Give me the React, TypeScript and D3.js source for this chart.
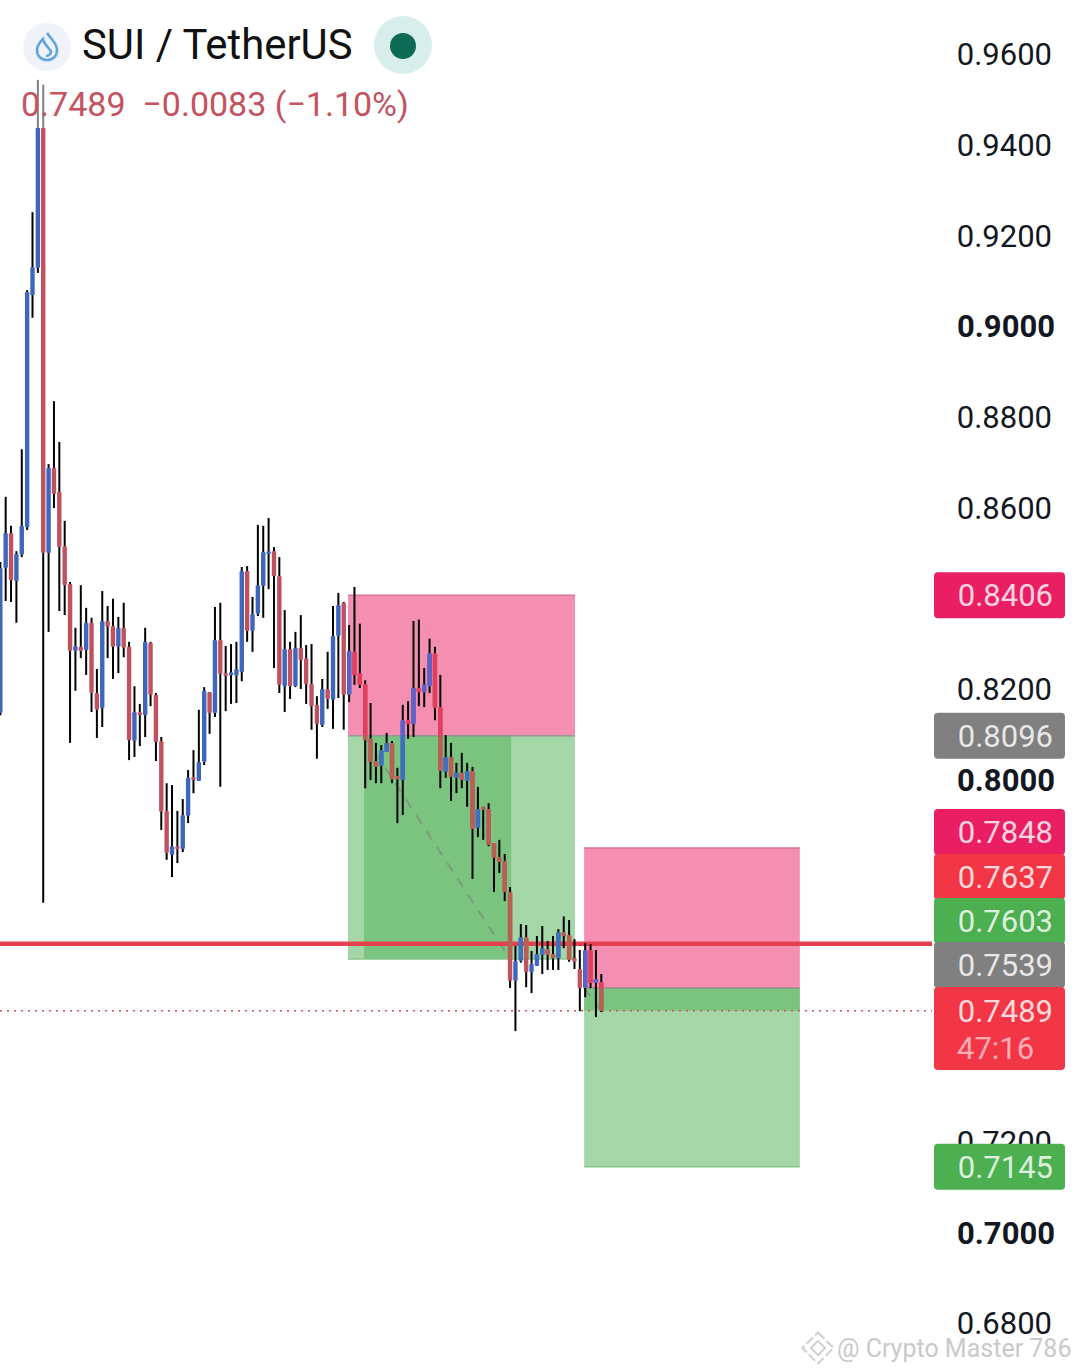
import React, { useEffect, useRef } from 'react';
import * as d3 from 'd3';

// candles, oldest first
const opens = [
  0.8146, 0.8466, 0.8543, 0.8437, 0.8495, 0.8556, 0.9068, 0.9128, 0.9437, 0.8499,
  0.8687, 0.8634, 0.8514, 0.8431, 0.8283, 0.8292, 0.8285, 0.8345, 0.8190, 0.8157,
  0.8349, 0.8338, 0.8292, 0.8334, 0.8292, 0.8084, 0.8148, 0.8141, 0.8301, 0.8186,
  0.8084, 0.7930, 0.7833, 0.7852, 0.7846, 0.7919, 0.8005, 0.7996, 0.8038, 0.8192,
  0.8146, 0.8307, 0.8234, 0.8230, 0.8228, 0.8236, 0.8459, 0.8327, 0.8365, 0.8426,
  0.8499, 0.8503, 0.8448, 0.8205, 0.8287, 0.8205, 0.8290, 0.8267, 0.8210, 0.8164,
  0.8119, 0.8199, 0.8175, 0.8316, 0.8389, 0.8186, 0.8281, 0.8234, 0.8210, 0.8089,
  0.8040, 0.8029, 0.8060, 0.8080, 0.8007, 0.7998, 0.8130, 0.8122, 0.8201, 0.8192,
  0.8205, 0.8278, 0.8159, 0.8016, 0.8049, 0.8003, 0.8014, 0.7996, 0.8018, 0.7892,
  0.7939, 0.7934, 0.7859, 0.7828, 0.7819, 0.7751, 0.7555, 0.7599, 0.7651, 0.7574,
  0.7588, 0.7612, 0.7625, 0.7614, 0.7605, 0.7662, 0.7656, 0.7605, 0.7581, 0.7539,
  0.7623, 0.7550, 0.7552,
];
const highs = [
  0.8479, 0.8623, 0.8559, 0.8503, 0.8728, 0.9079, 0.9251, 0.9543, 0.9532, 0.8695,
  0.8834, 0.8744, 0.8570, 0.8435, 0.8334, 0.8428, 0.8378, 0.8356, 0.8243, 0.8415,
  0.8382, 0.8398, 0.8358, 0.8389, 0.8303, 0.8205, 0.8166, 0.8334, 0.8303, 0.8190,
  0.8093, 0.7991, 0.7987, 0.7930, 0.7956, 0.8020, 0.8064, 0.8153, 0.8203, 0.8192,
  0.8380, 0.8389, 0.8294, 0.8298, 0.8303, 0.8468, 0.8470, 0.8402, 0.8561, 0.8559,
  0.8576, 0.8512, 0.8490, 0.8373, 0.8303, 0.8325, 0.8362, 0.8296, 0.8298, 0.8183,
  0.8221, 0.8281, 0.8382, 0.8411, 0.8391, 0.8340, 0.8424, 0.8343, 0.8218, 0.8168,
  0.8080, 0.8075, 0.8102, 0.8084, 0.8025, 0.8164, 0.8172, 0.8349, 0.8352, 0.8245,
  0.8310, 0.8292, 0.8230, 0.8097, 0.8080, 0.8036, 0.8058, 0.8036, 0.8027, 0.7983,
  0.7939, 0.7947, 0.7859, 0.7866, 0.7835, 0.7762, 0.7632, 0.7680, 0.7678, 0.7621,
  0.7654, 0.7676, 0.7643, 0.7654, 0.7669, 0.7697, 0.7689, 0.7647, 0.7623, 0.7638,
  0.7636, 0.7623, 0.7570,
];
const lows = [
  0.8141, 0.8393, 0.8391, 0.8345, 0.8490, 0.8550, 0.9018, 0.9117, 0.7727, 0.8325,
  0.8598, 0.8371, 0.8362, 0.8080, 0.8195, 0.8267, 0.8230, 0.8148, 0.8091, 0.8115,
  0.8267, 0.8221, 0.8234, 0.8269, 0.8042, 0.8049, 0.8073, 0.8093, 0.8161, 0.8040,
  0.7888, 0.7822, 0.7784, 0.7815, 0.7839, 0.7903, 0.7969, 0.7996, 0.8031, 0.8100,
  0.8137, 0.7983, 0.8150, 0.8166, 0.8168, 0.8216, 0.8303, 0.8281, 0.8360, 0.8356,
  0.8419, 0.8245, 0.8190, 0.8148, 0.8177, 0.8203, 0.8199, 0.8166, 0.8109, 0.8045,
  0.8115, 0.8155, 0.8111, 0.8179, 0.8109, 0.8170, 0.8208, 0.8201, 0.7980, 0.7998,
  0.7991, 0.7991, 0.8060, 0.7991, 0.7903, 0.7921, 0.8089, 0.8093, 0.8161, 0.8159,
  0.8190, 0.8130, 0.7980, 0.8003, 0.7952, 0.7969, 0.7980, 0.7939, 0.7780, 0.7872,
  0.7866, 0.7852, 0.7751, 0.7793, 0.7731, 0.7539, 0.7444, 0.7595, 0.7541, 0.7528,
  0.7588, 0.7570, 0.7579, 0.7579, 0.7579, 0.7627, 0.7597, 0.7581, 0.7488, 0.7519,
  0.7539, 0.7475, 0.7486,
];
const closes = [
  0.8466, 0.8543, 0.8439, 0.8497, 0.8559, 0.9075, 0.9130, 0.9437, 0.8499, 0.8687,
  0.8629, 0.8512, 0.8428, 0.8283, 0.8294, 0.8283, 0.8345, 0.8190, 0.8153, 0.8349,
  0.8336, 0.8292, 0.8334, 0.8290, 0.8086, 0.8148, 0.8141, 0.8303, 0.8186, 0.8082,
  0.7928, 0.7837, 0.7852, 0.7846, 0.7921, 0.8003, 0.8000, 0.8038, 0.8195, 0.8146,
  0.8307, 0.8232, 0.8228, 0.8236, 0.8243, 0.8459, 0.8327, 0.8365, 0.8428, 0.8501,
  0.8503, 0.8448, 0.8208, 0.8287, 0.8205, 0.8290, 0.8263, 0.8210, 0.8161, 0.8122,
  0.8199, 0.8177, 0.8316, 0.8384, 0.8186, 0.8283, 0.8230, 0.8208, 0.8086, 0.8038,
  0.8027, 0.8064, 0.8080, 0.8000, 0.8000, 0.8130, 0.8122, 0.8201, 0.8192, 0.8208,
  0.8278, 0.8157, 0.8018, 0.8049, 0.8005, 0.8014, 0.7998, 0.8018, 0.7890, 0.7934,
  0.7932, 0.7855, 0.7826, 0.7817, 0.7751, 0.7555, 0.7599, 0.7651, 0.7574, 0.7592,
  0.7614, 0.7627, 0.7612, 0.7605, 0.7662, 0.7654, 0.7601, 0.7597, 0.7539, 0.7623,
  0.7550, 0.7559, 0.7489,
];

const tickValues = [0.96, 0.94, 0.92, 0.9, 0.88, 0.86, 0.82, 0.8, 0.72, 0.7, 0.68];
const boldTicks = [0.9, 0.8, 0.7];

const badgePrices = [0.8406, 0.8096, 0.7848, 0.7637, 0.7603, 0.7539, 0.7145];
const badgeColors = ['#e91e63', '#808080', '#e91e63', '#f23645', '#4caf50', '#808080', '#4caf50'];
const lastPrice = 0.7489;
const countdown = '47:16';

// position tools: bar index range plus stop / entry / target
const positions = [
  { from: 64.8, to: 107.1, stop: 0.8406, entry: 0.8096, target: 0.7603, hitFrom: 67.8, hitTo: 95.2, hitPrice: 0.7603, pathTo: 95 },
  { from: 108.8, to: 149, stop: 0.7848, entry: 0.7539, target: 0.7145, hitFrom: 108.8, hitTo: 149, hitPrice: 0.7489, pathTo: 112 },
];

const App: React.FC = () => {
  const svgRef = useRef<SVGSVGElement>(null);

  useEffect(() => {
    if (!svgRef.current) return;
    const svg = d3.select(svgRef.current);
    svg.selectAll('*').remove();

    const width = 1080;
    const height = 1372;
    const chartRight = 932;
    const font = 'Roboto, sans-serif';

    const x = d3.scaleLinear().domain([0, 112]).range([0.3, 601.3]);
    const y = d3.scaleLinear().domain([0.96, 0.68]).range([54, 1323]);

    svg.append('rect').attr('width', width).attr('height', height).attr('fill', '#fff');

    const defs = svg.append('defs');
    const pinkClip = defs.append('clipPath').attr('id', 'pink-zone');
    const greenClip = defs.append('clipPath').attr('id', 'green-zone');

    // position boxes
    positions.forEach(p => {
      const bx = x(p.from);
      const bw = x(p.to) - x(p.from);
      svg.append('rect').attr('x', bx).attr('y', y(p.stop)).attr('width', bw)
        .attr('height', y(p.entry) - y(p.stop)).attr('fill', '#f48fb1');
      svg.append('rect').attr('x', bx).attr('y', y(p.entry)).attr('width', bw)
        .attr('height', y(p.target) - y(p.entry)).attr('fill', '#a5d6a7');
      svg.append('rect').attr('x', x(p.hitFrom)).attr('y', y(p.entry))
        .attr('width', x(p.hitTo) - x(p.hitFrom)).attr('height', y(p.hitPrice) - y(p.entry))
        .attr('fill', '#7bc47f');
      // thin edges
      svg.append('line').attr('x1', bx).attr('x2', bx + bw).attr('y1', y(p.stop)).attr('y2', y(p.stop))
        .attr('stroke', '#d9709a').attr('stroke-width', 1.5);
      svg.append('line').attr('x1', bx).attr('x2', bx + bw).attr('y1', y(p.entry)).attr('y2', y(p.entry))
        .attr('stroke', '#8a8a8a').attr('stroke-opacity', 0.8).attr('stroke-width', 1.5);
      svg.append('line').attr('x1', bx).attr('x2', bx + bw).attr('y1', y(p.target)).attr('y2', y(p.target))
        .attr('stroke', '#86c48a').attr('stroke-width', 1.5);
      // trade path
      svg.append('line').attr('x1', x(p.hitFrom)).attr('x2', x(p.pathTo))
        .attr('y1', y(p.entry)).attr('y2', y(p.hitPrice))
        .attr('stroke', '#7f9a80').attr('stroke-width', 2).attr('stroke-dasharray', '10 9');

      pinkClip.append('rect').attr('x', bx).attr('y', y(p.stop)).attr('width', bw)
        .attr('height', y(p.entry) - y(p.stop));
      greenClip.append('rect').attr('x', bx).attr('y', y(p.entry)).attr('width', bw)
        .attr('height', y(p.target) - y(p.entry));
    });

    // alert line and last price line
    svg.append('line').attr('x1', 0).attr('x2', chartRight).attr('y1', y(0.7637)).attr('y2', y(0.7637))
      .attr('stroke', '#e4404f').attr('stroke-width', 4.5);
    svg.append('line').attr('x1', 0).attr('x2', chartRight).attr('y1', y(lastPrice)).attr('y2', y(lastPrice))
      .attr('stroke', '#c4525f').attr('stroke-width', 1.5).attr('stroke-dasharray', '2 5');

    // candles
    const candles = opens.map((open, i) => ({
      i, open, high: highs[i], low: lows[i], close: closes[i],
    }));

    svg.append('g').selectAll('line').data(candles).join('line')
      .attr('x1', d => x(d.i)).attr('x2', d => x(d.i))
      .attr('y1', d => y(d.high)).attr('y2', d => y(d.low))
      .attr('stroke', '#000').attr('stroke-width', 2);

    const drawBodies = (up: string, down: string, clip?: string) => {
      const g = svg.append('g');
      if (clip) g.attr('clip-path', `url(#${clip})`);
      g.selectAll('rect').data(candles).join('rect')
        .attr('x', d => x(d.i) - 2.2)
        .attr('width', 4.4)
        .attr('y', d => y(Math.max(d.open, d.close)))
        .attr('height', d => Math.max(Math.abs(y(d.open) - y(d.close)), 3))
        .attr('rx', 1.2)
        .attr('fill', d => (d.close >= d.open ? up : down));
    };
    drawBodies('#3f66bd', '#c0525f');
    drawBodies('#5f60c8', '#e23f5f', 'pink-zone');
    drawBodies('#3f70c0', '#b95f52', 'green-zone');

    // legend sits on a translucent white plate, the wicks go grey under it
    svg.append('rect').attr('x', 0).attr('y', 70).attr('width', 430).attr('height', 58)
      .attr('fill', '#fff').attr('fill-opacity', 0.5);

    svg.append('circle').attr('cx', 47).attr('cy', 47).attr('r', 24).attr('fill', '#eff2f9');
    svg.append('path')
      .attr('d', 'M47 33 C51 39 57 43 57 50 C57 56 53 60 47 60 C41 60 37 56 37 50 C37 46 40 42 43 39 C44 44 48 47 51 51 C51 54 49 56 46 56')
      .attr('fill', 'none').attr('stroke', '#5fa6da').attr('stroke-width', 2.6);
    svg.append('text').attr('x', 82).attr('y', 59).attr('font-family', font).attr('font-size', 41.8)
      .attr('fill', '#111').text('SUI / TetherUS');
    svg.append('circle').attr('cx', 403).attr('cy', 45).attr('r', 29).attr('fill', '#d8eeea');
    svg.append('circle').attr('cx', 403).attr('cy', 46).attr('r', 13).attr('fill', '#0b6b55');
    svg.append('text').attr('x', 21).attr('y', 116).attr('font-family', font).attr('font-size', 34)
      .attr('fill', '#c4525f').style('white-space', 'pre')
      .text('0.7489  \u22120.0083 (\u22121.10%)');

    // price axis
    const axis = svg.append('g').attr('transform', 'translate(1052,1)')
      .call(d3.axisRight(y).tickValues(tickValues).tickSize(0).tickFormat(d => d3.format('.4f')(d as number)));
    axis.select('.domain').remove();
    axis.selectAll<SVGTextElement, number>('text')
      .attr('x', 0).attr('text-anchor', 'end')
      .attr('font-family', font).attr('font-size', 31).attr('fill', '#131722')
      .attr('font-weight', d => (boldTicks.includes(d) ? 700 : 400))
      .attr('dx', d => (boldTicks.includes(d) ? 3 : 0));

    // price badges
    const drawBadge = (top: number, bottom: number, fill: string) =>
      svg.append('rect').attr('x', 934).attr('y', top).attr('width', 131).attr('height', bottom - top)
        .attr('rx', 4).attr('fill', fill);

    // stacked labels get pushed apart on the real axis
    const badgeNudge = [0, 0, -16, -67, -38, -23, 0];
    badgePrices.forEach((price, i) => {
      const c = y(price) + badgeNudge[i];
      drawBadge(c - 23, c + 23, badgeColors[i]);
      svg.append('text').attr('x', 1053).attr('y', c + 11).attr('text-anchor', 'end')
        .attr('font-family', font).attr('font-size', 31).attr('fill', '#fff').attr('fill-opacity', 0.82)
        .text(d3.format('.4f')(price));
    });

    drawBadge(987, 1070, '#f23645');
    svg.append('text').attr('x', 1053).attr('y', 1022).attr('text-anchor', 'end')
      .attr('font-family', font).attr('font-size', 31).attr('fill', '#fff').attr('fill-opacity', 0.82)
      .text(d3.format('.4f')(lastPrice));
    svg.append('text').attr('x', 957).attr('y', 1059)
      .attr('font-family', font).attr('font-size', 31).attr('fill', '#fff').attr('fill-opacity', 0.6)
      .text(countdown);

    // watermark
    const mark = svg.append('g').attr('transform', 'translate(818,1348) rotate(45)')
      .attr('fill', 'none').attr('stroke', '#cfcfcf').attr('stroke-width', 2);
    mark.append('rect').attr('x', -5).attr('y', -5).attr('width', 10).attr('height', 10);
    mark.append('rect').attr('x', -11).attr('y', -11).attr('width', 22).attr('height', 22).attr('stroke-dasharray', '9 3');
    svg.append('text').attr('x', 837).attr('y', 1357).attr('font-family', font).attr('font-size', 25)
      .attr('fill', '#c9c9c9').text('@ Crypto Master 786');
  }, []);

  return <svg ref={svgRef} width={1080} height={1372} style={{ position: 'absolute', left: 0, top: 0, display: 'block' }} />;
};

export default App;
